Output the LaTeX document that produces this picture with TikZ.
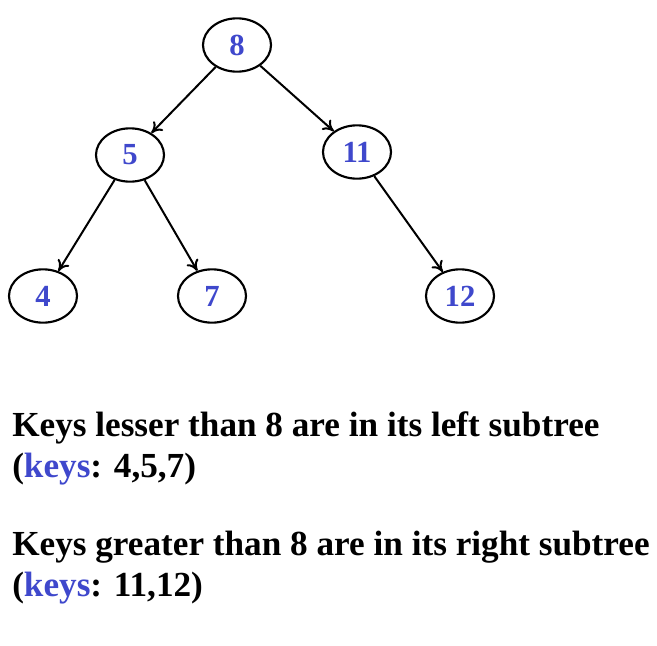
\documentclass[tikz,border=0pt]{standalone}
\usepackage{fontspec}
\setmainfont{Liberation Serif}
\usetikzlibrary{shapes.geometric,arrows.meta}
\definecolor{kblue}{HTML}{3F48CC}
\begin{document}
\begin{tikzpicture}[x=0.75pt,y=-0.75pt,
  key/.style={draw,line width=1.6pt,ellipse,minimum width=51pt,minimum height=40pt,inner sep=0pt,font=\bfseries\fontsize{23}{23}\selectfont,text=kblue},
  edge/.style={-{To[length=8pt,width=10pt]},line width=1.5pt},
  txt/.style={anchor=base west,inner sep=0pt,font=\bfseries\fontsize{26.4}{26.4}\selectfont}]
\useasboundingbox (0,0) rectangle (657,646);
\node[key] (n8) at (237,45) {8};
\node[key] (n5) at (130,155) {5};
\node[key] (n11) at (357,152) {11};
\node[key] (n4) at (43,296) {4};
\node[key] (n7) at (212,296) {7};
\node[key] (n12) at (460,296) {12};
\draw[edge] (n8) -- (n5);
\draw[edge] (n8) -- (n11);
\draw[edge] (n5) -- (n4);
\draw[edge] (n5) -- (n7);
\draw[edge] (n11) -- (n12);
\node[txt] (t1) at (12,436) {Keys lesser than 8 are in its left subtree};
\node[txt] (t2) at (12,477) {(\textcolor{kblue}{keys}: 4,5,7)};
\node[txt] (t3) at (12,555) {Keys greater than 8 are in its right subtree};
\node[txt] (t4) at (12,596) {(\textcolor{kblue}{keys}: 11,12)};
\end{tikzpicture}
\end{document}
